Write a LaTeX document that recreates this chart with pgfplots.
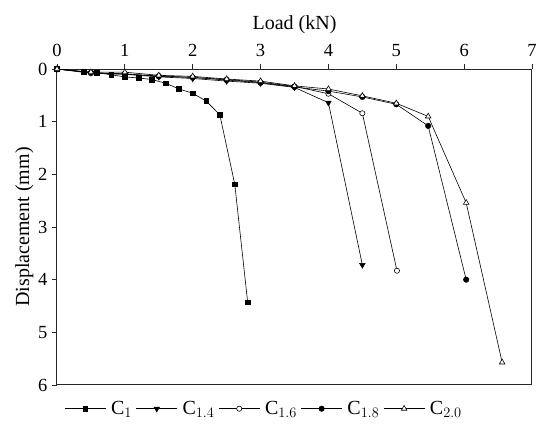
\documentclass[border=0pt]{standalone}
\usepackage{pgfplots}
\pgfplotsset{compat=1.18}
\usepackage{fontspec}
\setmainfont{Liberation Serif}
\begin{document}
\begin{tikzpicture}[x=1pt,y=1pt]
\useasboundingbox (-57,-45) rectangle (493,385);
\begin{axis}[
  at={(0,0)}, anchor=south west,
  scale only axis, width=475pt, height=316pt,
  xmin=0, xmax=7, ymin=0, ymax=6,
  y dir=reverse,
  xtick={0,1,...,7}, ytick={0,1,...,6},
  xtick pos=right, xticklabel pos=right, ytick pos=left,
  tick align=outside, major tick length=5pt,
  axis line style={black!85, line width=1pt},
  tick style={black!85, line width=0.9pt},
  /pgf/number format/assume math mode=true,
  ticklabel style={font=\fontsize{18.5}{21}\selectfont},
  xticklabel style={yshift=4pt},
  yticklabel style={xshift=-1pt},
  label style={font=\fontsize{20}{22}\selectfont},
  xlabel={Load (kN)}, ylabel={Displacement (mm)},
  xlabel style={yshift=3pt},
  ylabel style={yshift=-2pt},
  every axis plot/.append style={black, line width=0.6pt},
  legend columns=5,
  legend style={draw=none, fill=none, at={(0.435,-0.075)}, anchor=center,
    font=\fontsize{20}{22}\selectfont, inner sep=0pt,
    nodes={inner sep=1pt},
    /tikz/every even column/.append style={column sep=3pt},
    /tikz/every odd column/.append style={column sep=4pt}},
  legend image code/.code={\draw[#1, mark=none] (0pt,0pt) -- (41pt,0pt); \draw[#1, only marks] plot coordinates {(20.5pt,0pt)};},
]
\addplot[mark=square*, mark size=2.4pt] coordinates {
(0,0) (0.39,0.05) (0.59,0.07) (0.80,0.11) (1.0,0.15) (1.2,0.17) (1.4,0.20)
(1.6,0.27) (1.8,0.38) (2.0,0.46) (2.2,0.61) (2.4,0.87) (2.62,2.19) (2.81,4.43)};
\addlegendentry{C$_1$}
\addplot[mark=triangle*, mark size=3.2pt, mark options={rotate=180}] coordinates {
(0,0) (0.5,0.07) (1,0.10) (1.5,0.15) (2,0.18) (2.5,0.23) (3,0.27) (3.5,0.35) (4,0.64) (4.5,3.72)};
\addlegendentry{C$_{1.4}$}
\addplot[mark=*, mark size=2.6pt, mark options={fill=white}] coordinates {
(0,0) (0.5,0.08) (1,0.10) (1.5,0.13) (2,0.16) (2.5,0.20) (3,0.25) (3.5,0.33) (4,0.47) (4.5,0.84) (5.01,3.83)};
\addlegendentry{C$_{1.6}$}
\addplot[mark=*, mark size=2.7pt] coordinates {
(0,0) (0.5,0.07) (1,0.09) (1.5,0.14) (2,0.16) (2.5,0.21) (3,0.26) (3.5,0.34) (4,0.42) (4.5,0.53) (5,0.67) (5.47,1.08) (6.03,4.00)};
\addlegendentry{C$_{1.8}$}
\addplot[mark=triangle*, mark size=3.2pt, mark options={fill=white}] coordinates {
(0,0) (0.5,0.06) (1,0.06) (1.5,0.12) (2,0.14) (2.5,0.19) (3,0.23) (3.5,0.32) (4,0.38) (4.5,0.51) (5,0.65) (5.47,0.90) (6.03,2.54) (6.56,5.57)};
\addlegendentry{C$_{2.0}$}
\end{axis}
\end{tikzpicture}
\end{document}
